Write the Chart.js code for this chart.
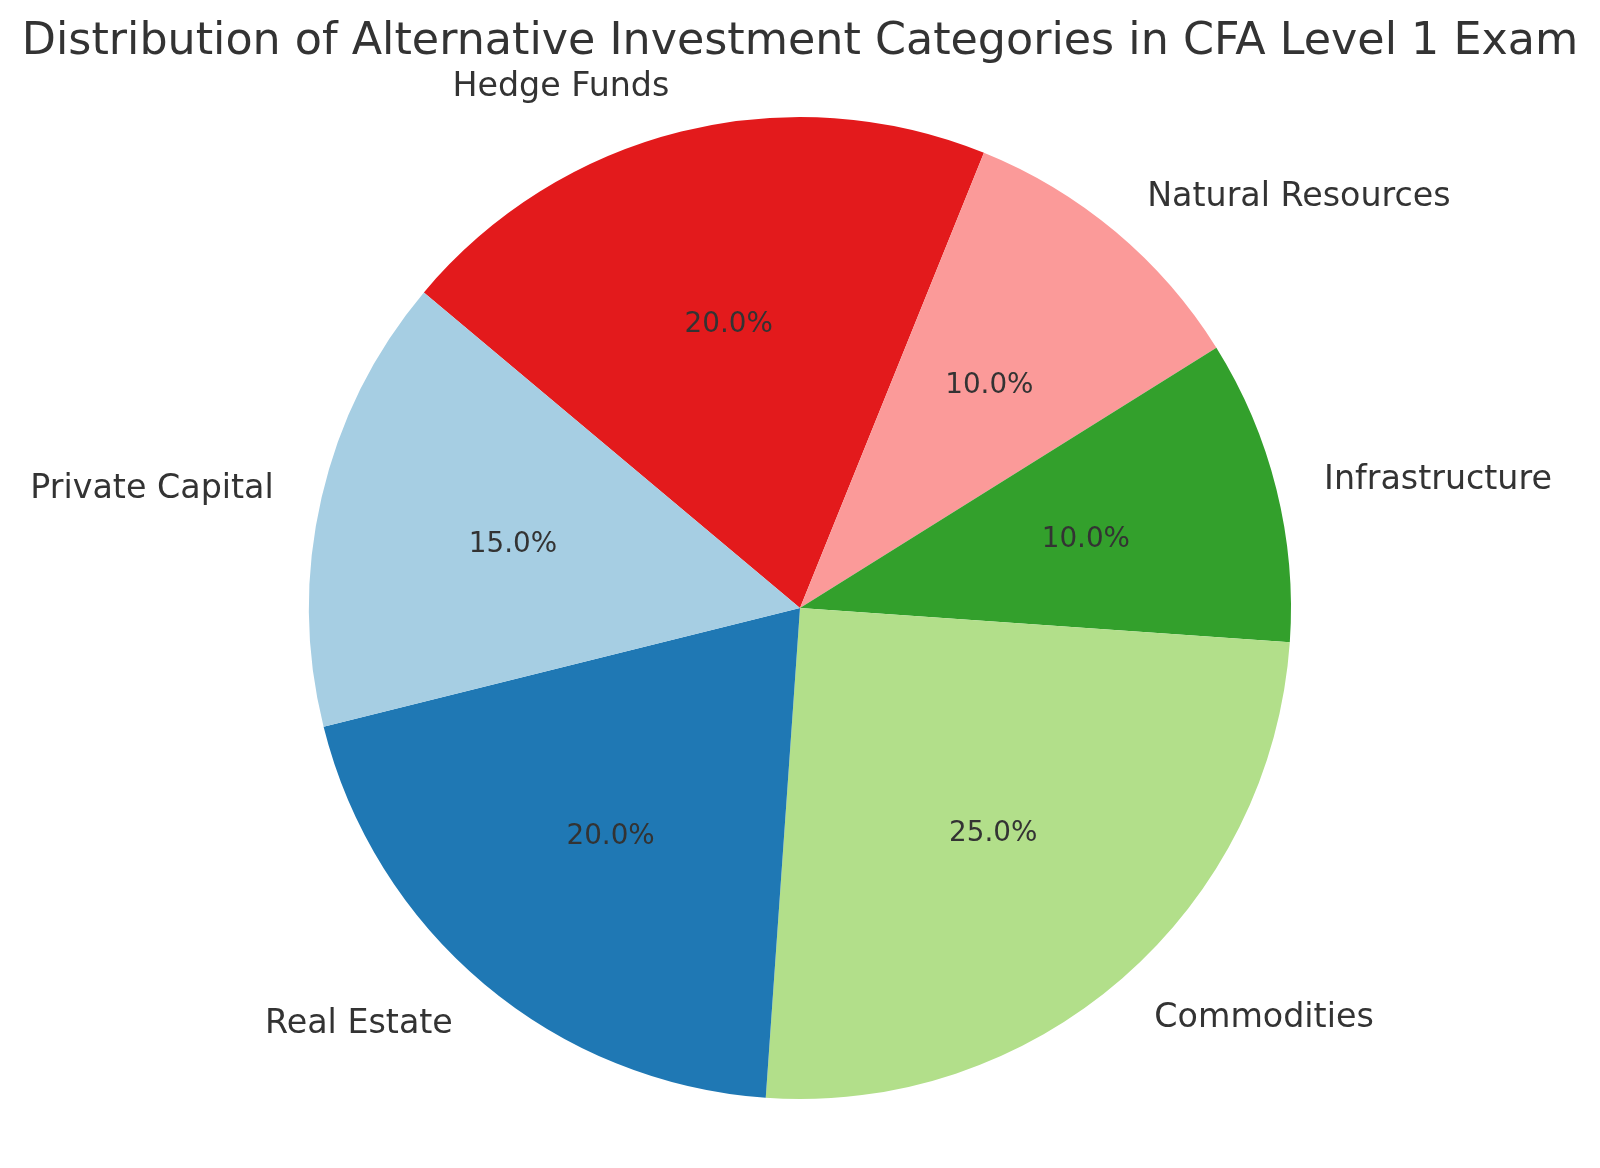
<!DOCTYPE html>
<html>
<head>
<meta charset="utf-8">
<script src="https://cdn.jsdelivr.net/npm/chart.js@4.4.0/dist/chart.umd.min.js"></script>
<style>
html,body{margin:0;padding:0;background:#fff;}
#wrap{width:1600px;height:1168px;position:relative;}
</style>
</head>
<body>
<div id="wrap"><canvas id="c" width="1600" height="1168"></canvas></div>
<script>
const titleText = "Distribution of Alternative Investment Categories in CFA Level 1 Exam";
const categories = ["Private Capital", "Real Estate", "Commodities", "Infrastructure", "Natural Resources", "Hedge Funds"];
const shares = [15, 20, 25, 10, 10, 20];
const colors = ["#a6cee3", "#1f78b4", "#b2df8a", "#33a02c", "#fb9a99", "#e31a1c"];

// matplotlib draws counter-clockwise from 140deg; Chart.js draws clockwise, so reverse.
const labelsCW = categories.slice().reverse();
const valuesCW = shares.slice().reverse();
const colorsCW = colors.slice().reverse();

const textColor = "#333333";
const FONT = "'DejaVu Sans', sans-serif";

const textPlugin = {
  id: 'textPlugin',
  afterDraw(chart) {
    const ctx = chart.ctx;
    const meta = chart.getDatasetMeta(0);
    const total = valuesCW.reduce((a, b) => a + b, 0);
    ctx.save();
    ctx.fillStyle = textColor;
    // title
    ctx.font = "44.4px " + FONT;
    ctx.textAlign = 'center';
    ctx.textBaseline = 'alphabetic';
    ctx.fillText(titleText, 800, 54);
    meta.data.forEach((arc, i) => {
      const p = arc.getProps(['x', 'y', 'startAngle', 'endAngle', 'outerRadius'], true);
      const mid = (p.startAngle + p.endAngle) / 2;
      const cx = Math.cos(mid), cy = Math.sin(mid);
      // label
      const lr = p.outerRadius * 1.1;
      ctx.font = "33.3px " + FONT;
      ctx.textBaseline = 'middle';
      ctx.textAlign = cx >= 0 ? 'left' : 'right';
      ctx.fillText(labelsCW[i], p.x + lr * cx, p.y + lr * cy + 3);
      // percent
      const pr = p.outerRadius * 0.6;
      ctx.font = "27.8px " + FONT;
      ctx.textAlign = 'center';
      const pct = (valuesCW[i] / total * 100).toFixed(1) + '%';
      ctx.fillText(pct, p.x + pr * cx, p.y + pr * cy + 3);
    });
    ctx.restore();
  }
};

new Chart(document.getElementById('c'), {
  type: 'pie',
  data: {
    labels: labelsCW,
    datasets: [{
      data: valuesCW,
      backgroundColor: colorsCW,
      borderWidth: 0
    }]
  },
  options: {
    responsive: false,
    animation: false,
    rotation: -50,
    layout: { padding: { top: 117, bottom: 69, left: 0, right: 0 } },
    plugins: {
      legend: { display: false },
      tooltip: { enabled: false },
      title: { display: false }
    }
  },
  plugins: [textPlugin]
});
</script>
</body>
</html>
